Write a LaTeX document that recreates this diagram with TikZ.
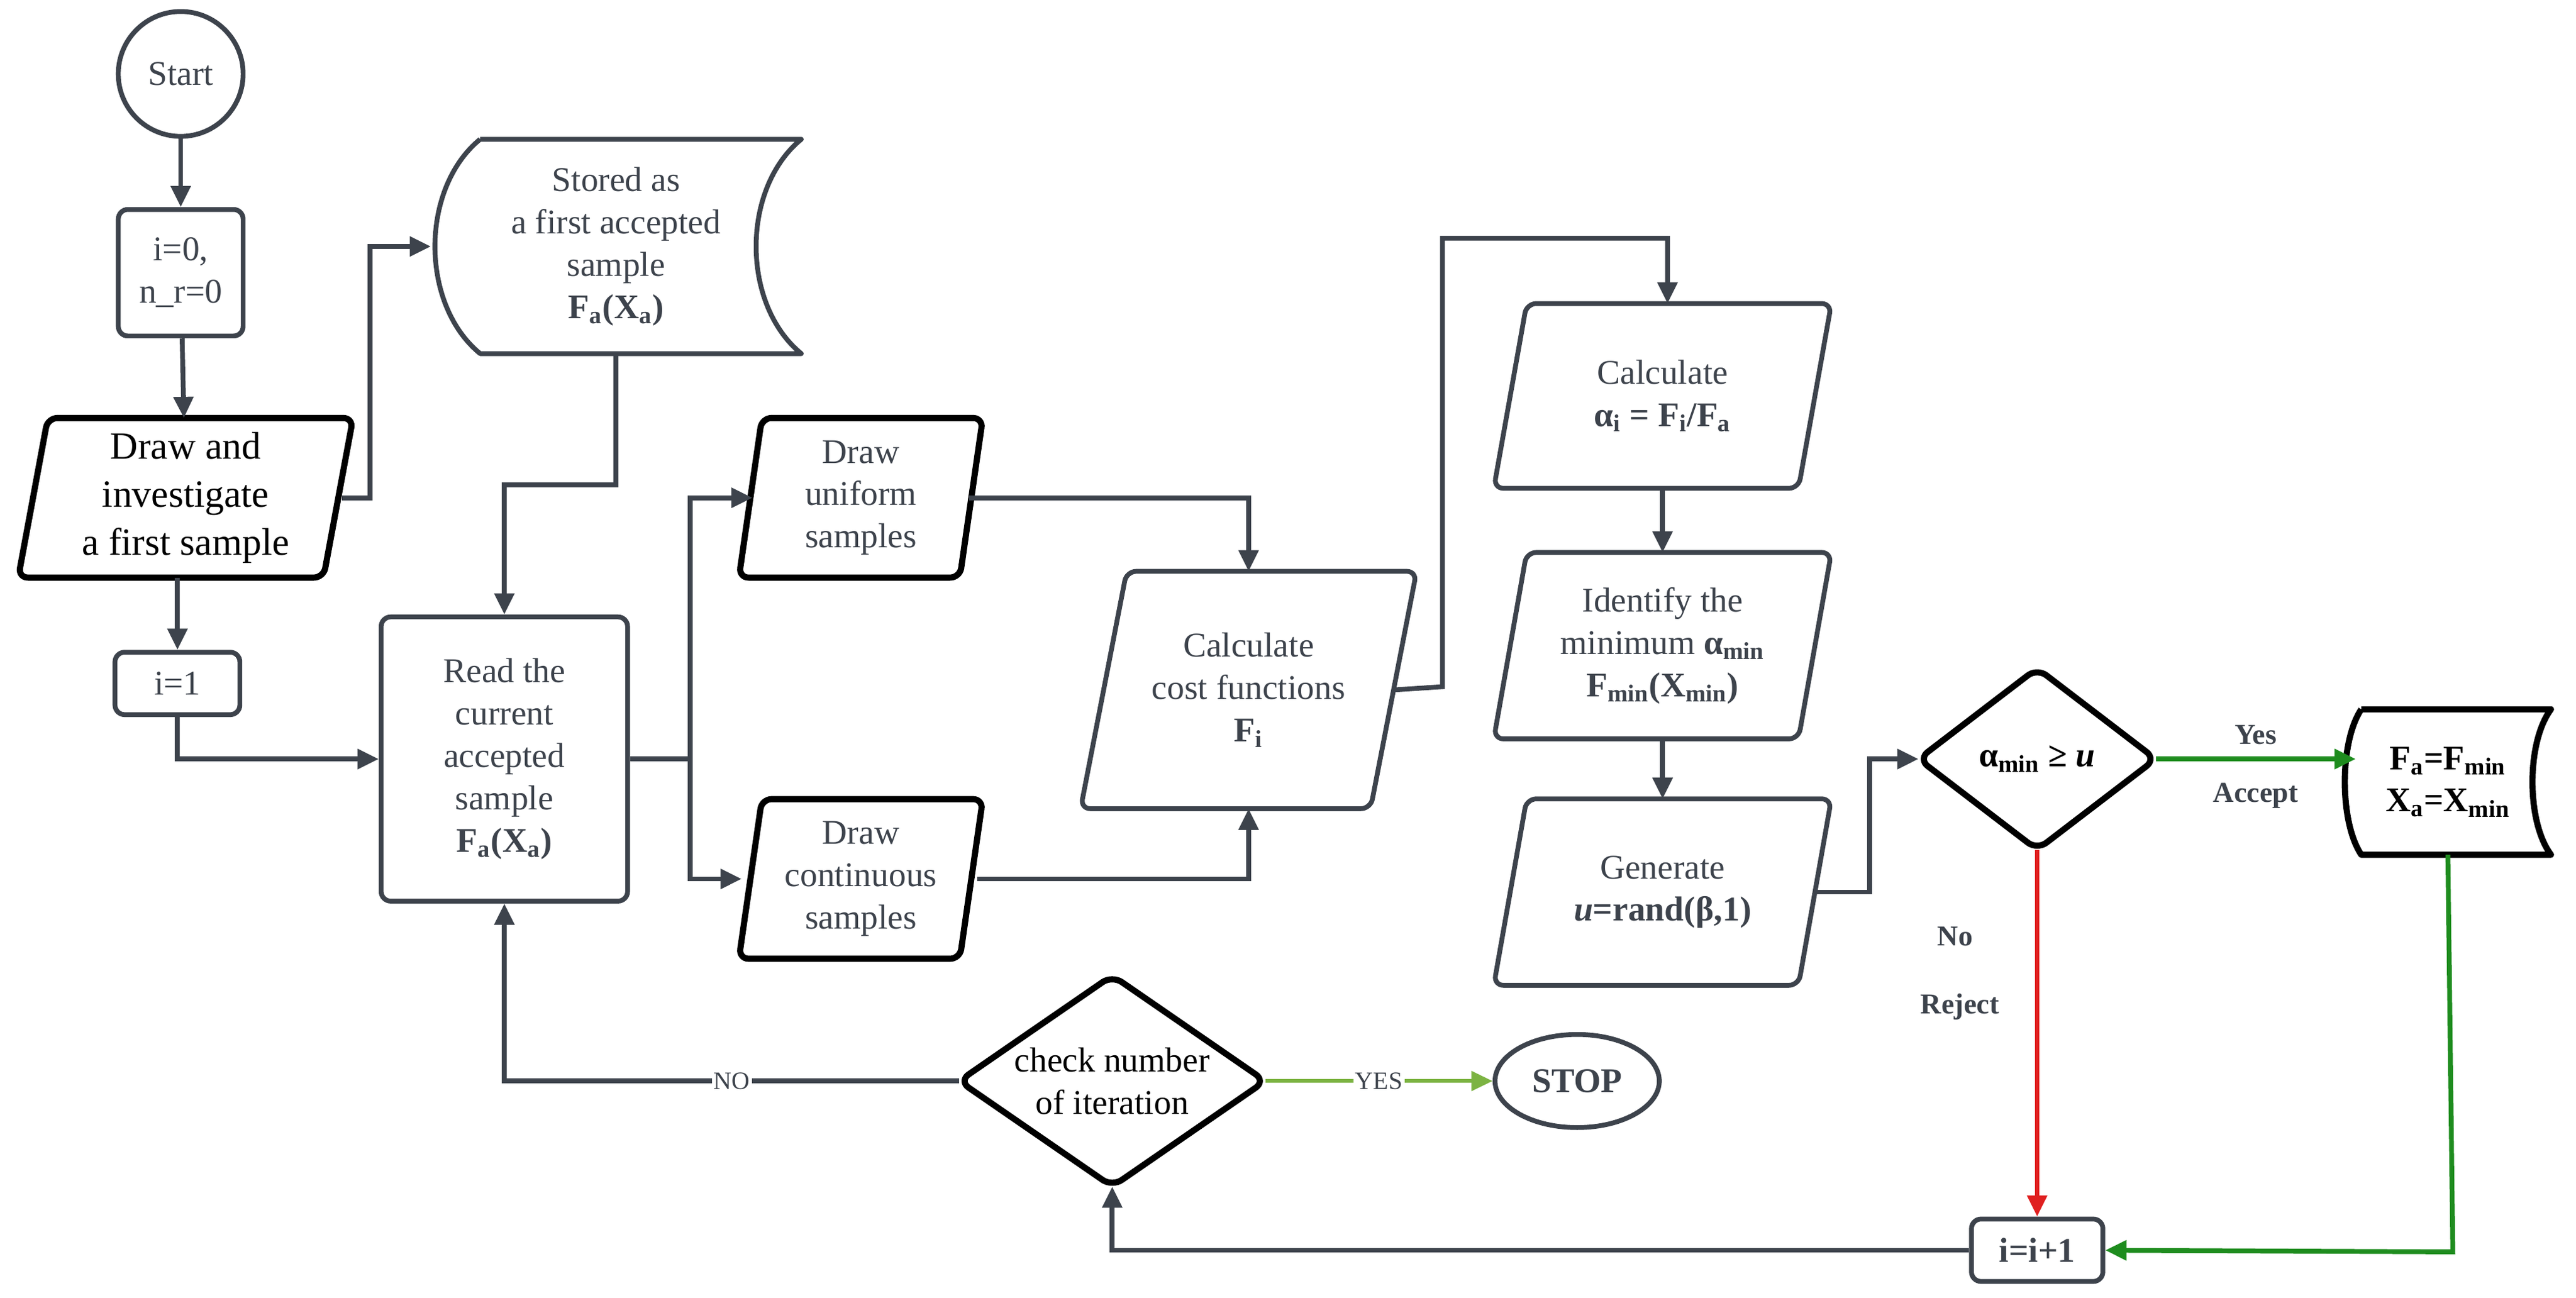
\documentclass[tikz,border=0pt]{standalone}
\usepackage{fontspec}
\setmainfont{Liberation Serif}
\usetikzlibrary{arrows.meta,shapes.geometric}
\definecolor{dk}{HTML}{3D434C}
\definecolor{gr}{HTML}{1E8C1E}
\definecolor{lg}{HTML}{7CB342}
\definecolor{rd}{HTML}{E02020}
\begin{document}
\begin{tikzpicture}[x=0.03cm,y=-0.03cm,
  every node/.style={text=dk,font=\fontsize{18}{22}\selectfont,align=center},
  box/.style={draw=dk,line width=2.5pt,rounded corners=5pt,inner sep=0pt},
  blank/.style={inner sep=0pt},
  ln/.style={draw=dk,line width=2.5pt},
  arr/.style={ln,-{Triangle[length=11pt,width=10pt]}},
  shp/.style={draw=dk,line width=2.5pt,rounded corners=5pt,line join=round},
  bshp/.style={draw=black,line width=3.2pt,rounded corners=5pt,line join=round}]
\useasboundingbox (0,0) rectangle (1568,790);
% nodes
\node[draw=dk,line width=2.5pt,circle,minimum size=2.28cm] (start) at (110,45) {Start};
\node[box,minimum width=2.28cm,minimum height=2.31cm] (i0) at (110,166) {i=0,\\n\_r=0};
\node[blank,minimum width=6.1cm,minimum height=2.9cm,text=black,font=\fontsize{20}{25}\selectfont] (draw) at (113,303) {Draw and\\investigate\\a first sample};
\node[box,minimum width=2.28cm,minimum height=1.14cm] (i1) at (108,416) {i=1};
\node[blank,minimum width=6.75cm,minimum height=3.9cm] (store) at (375,150) {Stored as\\a first accepted\\sample\\\textbf{F\textsubscript{a}(X\textsubscript{a})}};
\node[box,minimum width=4.5cm,minimum height=5.19cm] (read) at (307,462) {Read the\\current\\accepted\\sample\\\textbf{F\textsubscript{a}(X\textsubscript{a})}};
\node[blank,minimum width=4.44cm,minimum height=2.9cm] (uni) at (524,303) {Draw\\uniform\\samples};
\node[blank,minimum width=4.44cm,minimum height=2.9cm] (cont) at (524,535) {Draw\\continuous\\samples};
\node[blank,minimum width=6.12cm,minimum height=4.32cm] (cost) at (760,420) {Calculate\\cost functions\\\textbf{F\textsubscript{i}}};
\node[blank,minimum width=6.15cm,minimum height=3.36cm] (calc) at (1012,241) {Calculate\\\textbf{α\textsubscript{i} = F\textsubscript{i}/F\textsubscript{a}}};
\node[blank,minimum width=6.15cm,minimum height=3.39cm] (ident) at (1012,393) {Identify the\\minimum \textbf{α\textsubscript{min}}\\\textbf{F\textsubscript{min}(X\textsubscript{min})}};
\node[blank,minimum width=6.15cm,minimum height=3.39cm] (gen) at (1012,543) {Generate\\\textbf{\textit{u}=rand(β,1)}};
\node[blank,minimum width=4.32cm,minimum height=3.3cm,text=black] (dia) at (1240,462) {\textbf{α\textsubscript{min} ≥ \textit{u}}};
\node[blank,minimum width=3.75cm,minimum height=2.64cm,text=black] (fa) at (1490,476) {\textbf{F\textsubscript{a}=F\textsubscript{min}}\\\textbf{X\textsubscript{a}=X\textsubscript{min}}};
\node[box,minimum width=2.4cm,minimum height=1.14cm] (inc) at (1240,761) {\textbf{i=i+1}};
\node[blank,minimum width=5.58cm,minimum height=3.84cm,text=black] (chk) at (677,658) {check number\\of iteration};
\node[draw=dk,line width=2.5pt,ellipse,minimum width=3cm,minimum height=1.7cm,inner sep=0pt] (stop) at (960,658) {\textbf{STOP}};
% shapes
\foreach \n/\s in {cost/28,calc/20,ident/20,gen/20}{
  \draw[shp] ([xshift=\s*0.03cm]\n.north west) -- (\n.north east) -- ([xshift=-\s*0.03cm]\n.south east) -- (\n.south west) -- cycle;}
\foreach \n/\s in {draw/18,uni/14,cont/14}{
  \draw[bshp] ([xshift=\s*0.03cm]\n.north west) -- (\n.north east) -- ([xshift=-\s*0.03cm]\n.south east) -- (\n.south west) -- cycle;}
\draw[shp,rounded corners=0pt] ([xshift=0.9cm]store.north west) -- (store.north east)
  .. controls ([xshift=-1.1cm,yshift=-0.9cm]store.north east) and ([xshift=-1.1cm,yshift=0.9cm]store.south east) .. (store.south east)
  -- ([xshift=0.9cm]store.south west)
  .. controls ([xshift=-0.2cm,yshift=0.9cm]store.south west) and ([xshift=-0.2cm,yshift=-0.9cm]store.north west) .. ([xshift=0.9cm]store.north west);
\draw[bshp,rounded corners=0pt] ([xshift=0.3cm]fa.north west) -- (fa.north east)
  .. controls ([xshift=-0.45cm,yshift=-0.6cm]fa.north east) and ([xshift=-0.45cm,yshift=0.6cm]fa.south east) .. (fa.south east)
  -- ([xshift=0.3cm]fa.south west)
  .. controls ([xshift=-0.1cm,yshift=0.6cm]fa.south west) and ([xshift=-0.1cm,yshift=-0.6cm]fa.north west) .. ([xshift=0.3cm]fa.north west);
\foreach \n in {dia,chk}{
  \draw[bshp,rounded corners=6pt] (\n.north) -- (\n.east) -- (\n.south) -- (\n.west) -- cycle;}
% connectors
\draw[arr] (start) -- (i0);
\draw[arr] (i0) -- (draw);
\draw[arr] (draw.south -| i1) -- (i1);
\draw[arr] ([xshift=-0.2cm]draw.east) -- ++(17,0) |- (store.west);
\draw[arr] (store.south) -- ++(0,80) -| (read.north);
\draw[arr] (i1.south) |- (read.west);
\coordinate (sp) at (420,462);
\draw[ln] (read.east) -- (sp);
\draw[arr] (sp) |- ([xshift=0.25cm]uni.west);
\draw[arr] (sp) |- ([xshift=0.05cm]cont.west);
\draw[arr] ([xshift=-0.25cm]uni.east) -| (cost.north);
\draw[arr] ([xshift=-0.1cm]cont.east) -| (cost.south);
\draw[arr] ([xshift=-0.45cm]cost.east) -- (878,418) |- (1015,145) -- (calc.north -| 1015,0);
\draw[arr] (calc) -- (ident);
\draw[arr] (ident) -- (gen);
\draw[arr] ([xshift=-0.3cm]gen.east) -- (1138,543) |- (dia.west);
\draw[draw=gr,line width=2.5pt,-{Triangle[length=11pt,width=10pt]}] (dia.east) -- node[above=3pt,font=\bfseries\fontsize{15}{18}\selectfont]{Yes} node[below=8pt,font=\bfseries\fontsize{15}{18}\selectfont]{Accept} ([xshift=0.2cm]dia.east -| fa.west);
\draw[draw=rd,line width=2.5pt,-{Triangle[length=11pt,width=10pt]}] (dia.south) -- (inc.north);
\node[font=\bfseries\fontsize{15}{18}\selectfont] (no) at (1190,570) {No};
\node[font=\bfseries\fontsize{15}{18}\selectfont] (rej) at (1193,613) {Reject};
\draw[draw=gr,line width=2.5pt,-{Triangle[length=11pt,width=10pt]}] (fa.south) -- (1493,762) -- (inc.east);
\draw[arr] (inc.west) -| (chk.south);
\draw[arr] (chk.west) -- node[fill=white,inner sep=1pt,font=\fontsize{13}{15}\selectfont]{NO} (307,658) -- (read.south);
\draw[draw=lg,line width=2pt,-{Triangle[length=11pt,width=10pt]}] (chk.east) -- node[fill=white,inner sep=1pt,font=\fontsize{13}{15}\selectfont]{YES} (stop.west);
\end{tikzpicture}
\end{document}
